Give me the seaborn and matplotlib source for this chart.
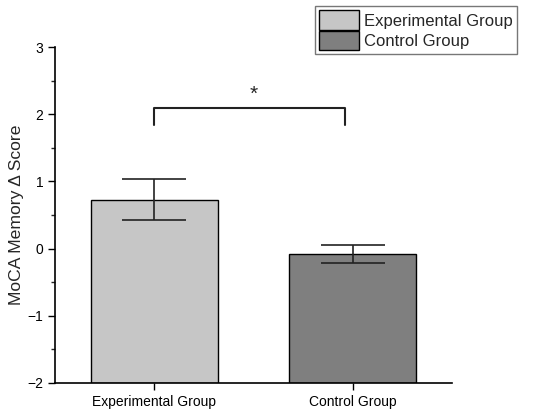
import matplotlib
matplotlib.use('Agg')
import matplotlib.pyplot as plt
import seaborn as sns
import pandas as pd
from matplotlib.ticker import MultipleLocator
from matplotlib.patches import Patch

# Data
groups = ['Experimental Group', 'Control Group']
means = [0.73, -0.08]
errors = [0.30, 0.13]
colors = ['#c6c6c6', '#7f7f7f']
y_min, y_max = -2, 3

# bars start at the bottom of the axis (Origin style)
df = pd.DataFrame({'group': groups, 'score': means})
df['height'] = df['score'] - y_min

sns.set_style('ticks')
plt.rcParams['font.family'] = ['Liberation Sans', 'DejaVu Sans']

fig, ax = plt.subplots(figsize=(5.5, 4.13), dpi=100)
fig.subplots_adjust(left=0.1, right=0.822, top=0.886, bottom=0.073)

sns.barplot(data=df, x='group', y='height', hue='group', palette=colors,
            errorbar=None, width=0.64, edgecolor='black', linewidth=1.0,
            legend=False, bottom=y_min, ax=ax)
ax.errorbar(range(len(groups)), means, yerr=errors, fmt='none',
            ecolor='#222222', elinewidth=1.2, capsize=23, capthick=1.2)

ax.set_xlim(-0.5, 1.5)
ax.set_ylim(y_min, y_max)
ax.yaxis.set_major_locator(MultipleLocator(1))
ax.yaxis.set_minor_locator(MultipleLocator(0.5))
ax.set_xlabel('')
ax.set_ylabel('MoCA Memory Δ Score', fontsize=12.6, labelpad=2)
ax.tick_params(axis='both', labelsize=10, direction='out', length=5, width=1, colors='black')
ax.tick_params(axis='y', which='minor', length=3, width=1)
for side in ['left', 'bottom']:
    ax.spines[side].set_linewidth(1.2)
    ax.spines[side].set_color('black')
sns.despine(ax=ax)

# significance bracket
bx = [0, 0, 0.96, 0.96]
by = [1.84, 2.09, 2.09, 1.84]
ax.plot(bx, by, color='#222222', lw=1.5, clip_on=False)
ax.text(0.5, 2.3, '*', ha='center', va='center', fontsize=15)

handles = [Patch(facecolor=c, edgecolor='black', linewidth=1.0) for c in colors]
leg = fig.legend(handles, groups, loc='upper right', bbox_to_anchor=(0.94, 0.985),
                 fontsize=12, frameon=True, fancybox=False, edgecolor='#555555',
                 handlelength=2.4, handleheight=1.4, labelspacing=0.08,
                 handletextpad=0.3, borderpad=0.25, borderaxespad=0)
leg.get_frame().set_linewidth(1.0)

plt.savefig('out.png', dpi=100)
